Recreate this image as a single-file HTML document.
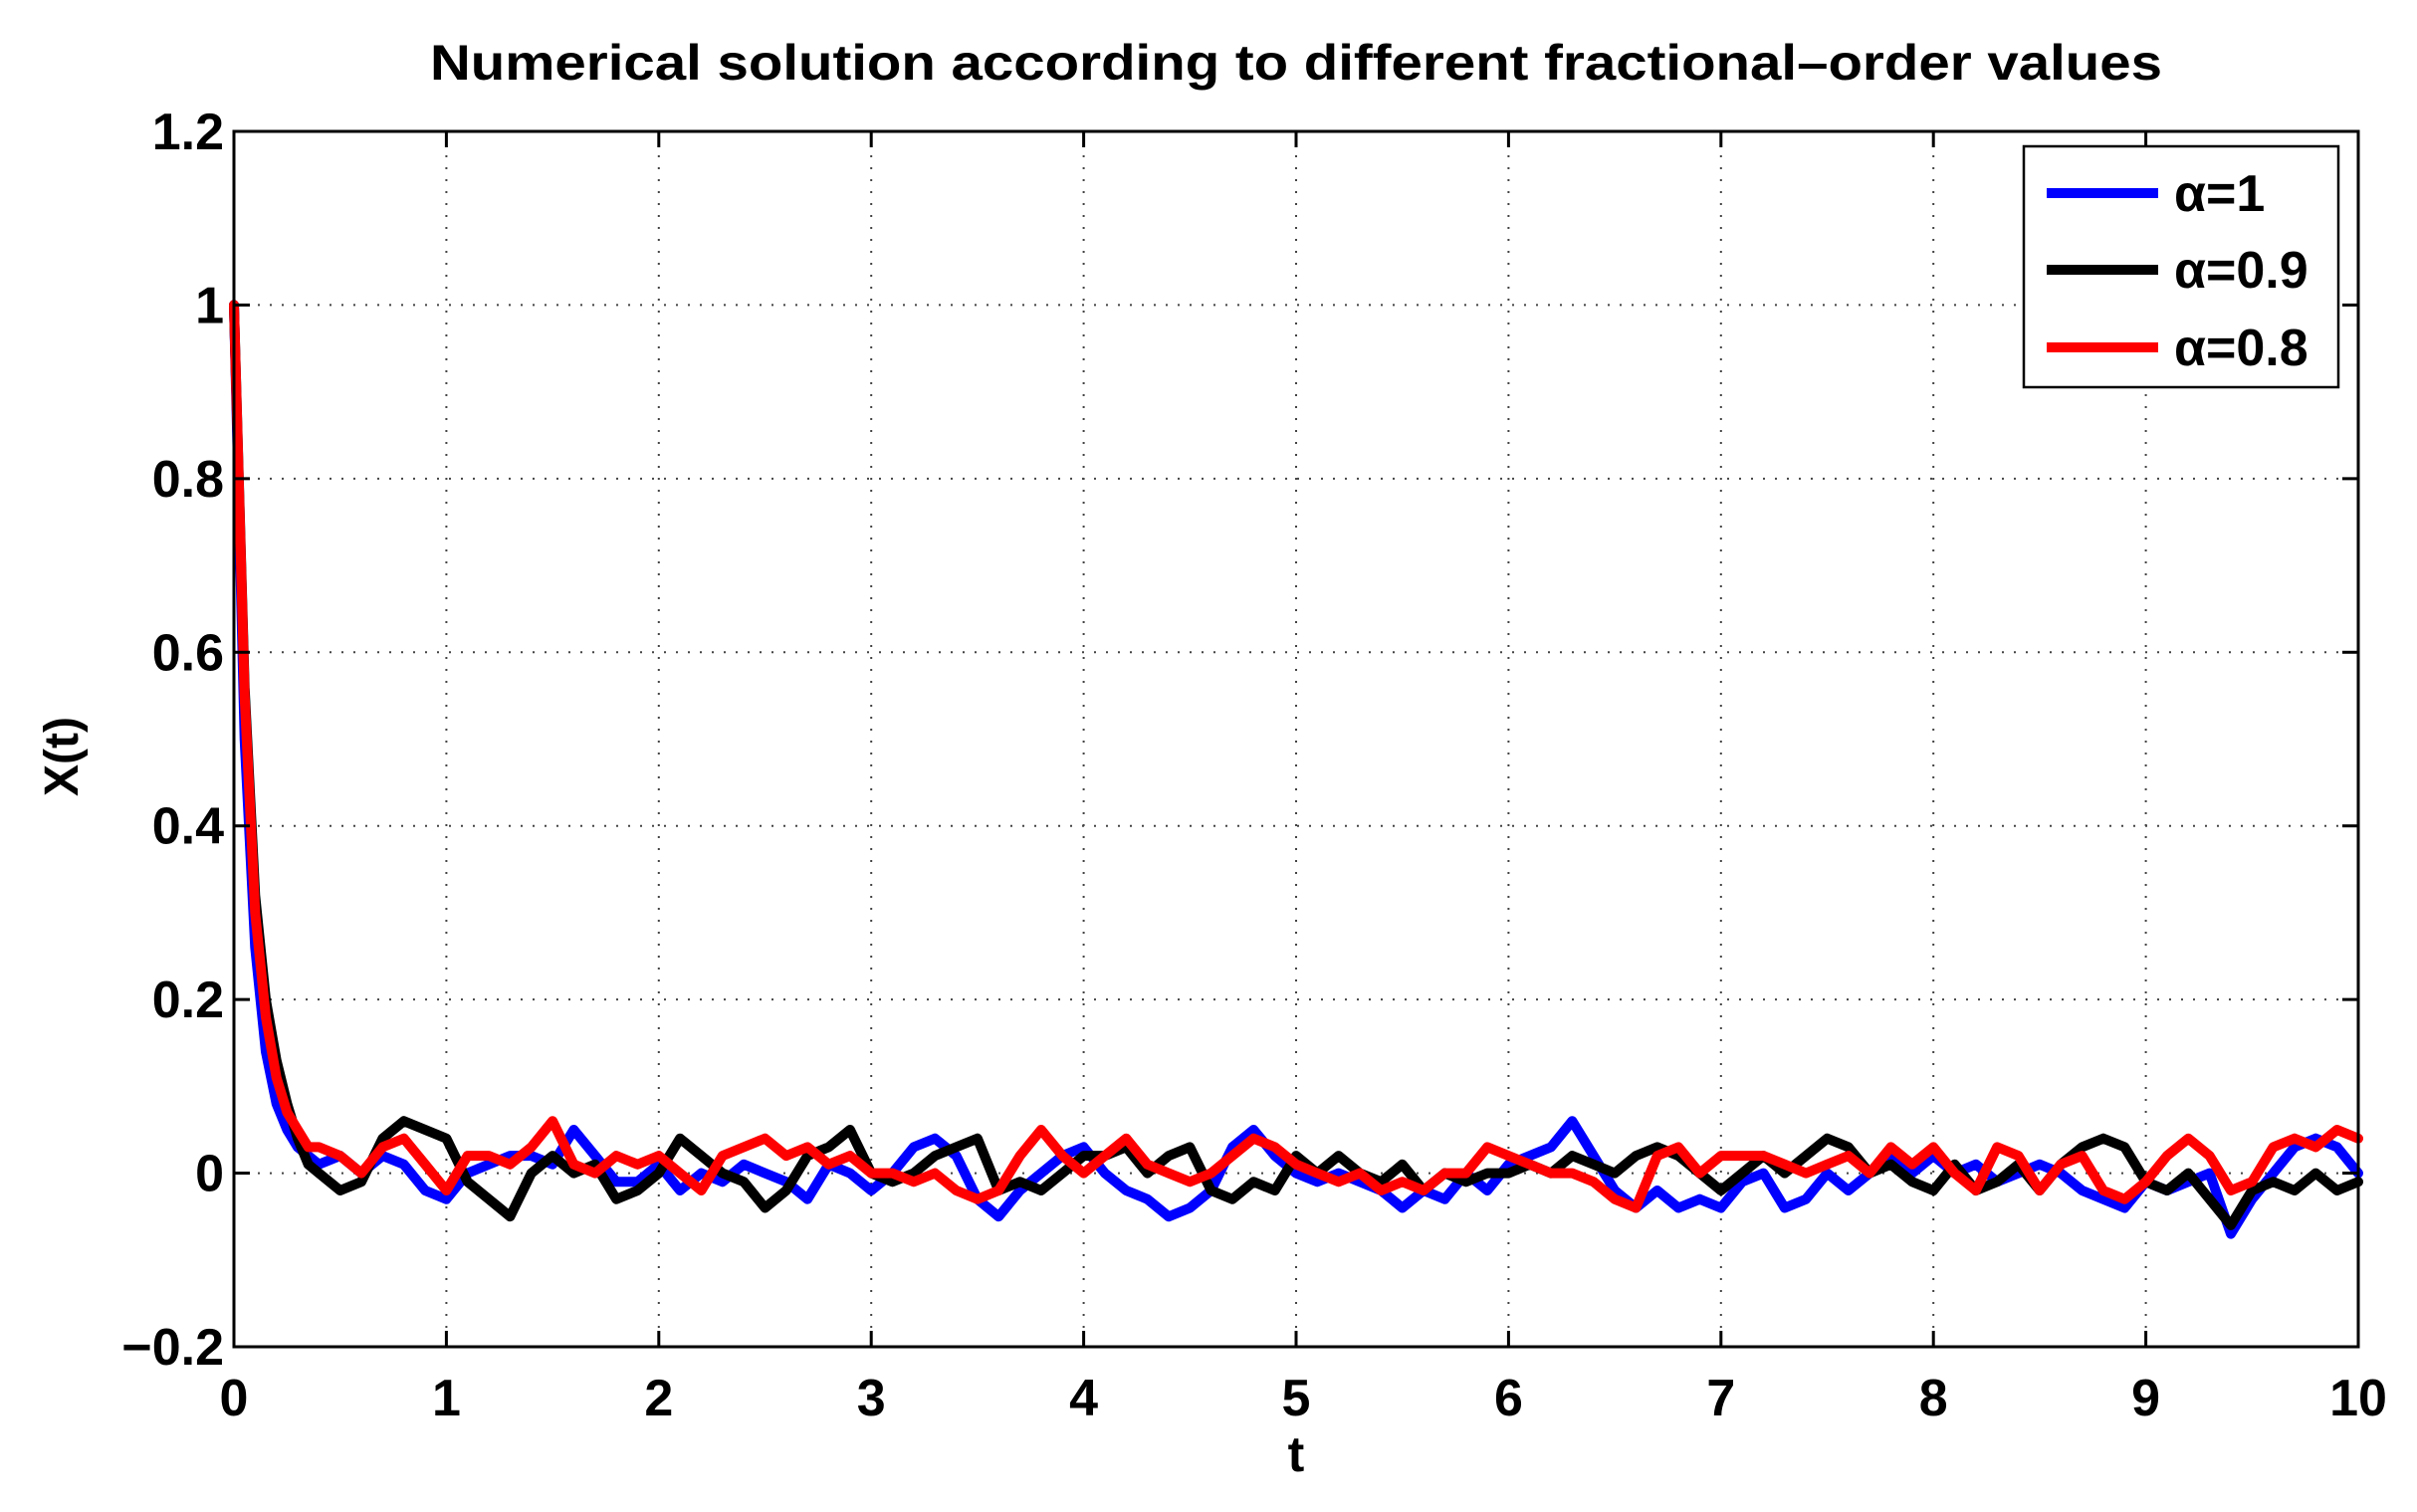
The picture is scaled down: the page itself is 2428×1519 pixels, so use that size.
<!DOCTYPE html>
<html><head><meta charset="utf-8"><style>
html,body{margin:0;padding:0;background:#fff;}
svg{display:block;font-family:"Liberation Sans",sans-serif;font-weight:bold;}
</style></head><body>
<svg id="chart" width="2428" height="1519" viewBox="0 0 2428 1519">
<g id="grid"></g>
<g id="series"></g>
<rect x="235" y="132" width="2134" height="1221" fill="none" stroke="#000" stroke-width="3"/>
<g id="ticks"></g>
<text x="1302" y="80" font-size="50" text-anchor="middle" textLength="1740" lengthAdjust="spacingAndGlyphs">Numerical solution according to different fractional–order values</text>
<text x="1302" y="1478" font-size="50" text-anchor="middle">t</text>
<text x="0" y="0" font-size="48" text-anchor="middle" transform="translate(78,760) rotate(-90)">X(t)</text>
<g>
<rect x="2033" y="147" width="316" height="242" fill="#fff" stroke="#000" stroke-width="2.5"/>
<line x1="2056" y1="194" x2="2168" y2="194" stroke="#0000ff" stroke-width="10"/>
<text x="2184" y="212" font-size="52">α=1</text>
<line x1="2056" y1="271" x2="2168" y2="271" stroke="#000" stroke-width="10"/>
<text x="2184" y="289" font-size="52">α=0.9</text>
<line x1="2056" y1="349" x2="2168" y2="349" stroke="#ff0000" stroke-width="10"/>
<text x="2184" y="367" font-size="52">α=0.8</text>
</g>
</svg>
<script>
const xTicks=[0,1,2,3,4,5,6,7,8,9,10];
const yTicks=[-0.2,0,0.2,0.4,0.6,0.8,1,1.2];
const yTickLabels=["−0.2","0","0.2","0.4","0.6","0.8","1","1.2"];
const tHead=[0,0.05,0.1,0.15,0.2,0.25,0.3,0.35];
const decayBlue=[1,0.5,0.26,0.14,0.08,0.05,0.03,0.02];
const decayBlack=[1,0.56,0.32,0.2,0.13,0.08,0.04,0.01];
const decayRed=[1,0.55,0.3,0.18,0.11,0.07,0.05,0.03];
const blueTail=[0.01,0.02,0.0,0.02,0.01,-0.02,-0.03,0.0,0.01,0.02,0.02,0.01,0.05,0.02,-0.01,-0.01,0.01,-0.02,0.0,-0.01,0.01,0.0,-0.01,-0.03,0.01,0.0,-0.02,0.0,0.03,0.04,0.02,-0.03,-0.05,-0.02,0.0,0.02,0.03,0.0,-0.02,-0.03,-0.05,-0.04,-0.02,0.03,0.05,0.02,0.0,-0.01,0.0,-0.01,-0.02,-0.04,-0.02,-0.03,0.0,-0.02,0.01,0.02,0.03,0.06,0.02,-0.02,-0.04,-0.02,-0.04,-0.03,-0.04,-0.01,0.0,-0.04,-0.03,0.0,-0.02,0.0,0.02,0.0,0.02,0.0,0.01,-0.01,0.0,0.01,0.0,-0.02,-0.03,-0.04,-0.01,-0.02,-0.01,0.0,-0.07,-0.03,0.0,0.03,0.04,0.03,0.0];
const blackTail=[0.0,-0.02,-0.01,0.04,0.06,0.05,0.04,-0.01,-0.03,-0.05,0.0,0.02,0.0,0.01,-0.03,-0.02,0.0,0.04,0.02,0.0,-0.01,-0.04,-0.02,0.02,0.03,0.05,0.0,-0.01,0.0,0.02,0.03,0.04,-0.02,-0.01,-0.02,0.0,0.02,0.02,0.03,0.0,0.02,0.03,-0.02,-0.03,-0.01,-0.02,0.02,0.0,0.02,0.0,-0.01,0.01,-0.02,0.0,-0.01,0.0,0.0,0.01,0.0,0.02,0.01,0.0,0.02,0.03,0.02,0.0,-0.02,0.0,0.02,0.0,0.02,0.04,0.03,0.0,0.01,-0.01,-0.02,0.01,-0.02,-0.01,0.01,-0.02,0.01,0.03,0.04,0.03,-0.01,-0.02,0.0,-0.03,-0.06,-0.02,-0.01,-0.02,0.0,-0.02,-0.01];
const redTail=[0.03,0.02,0.0,0.03,0.04,0.01,-0.02,0.02,0.02,0.01,0.03,0.06,0.01,0.0,0.02,0.01,0.02,0.0,-0.02,0.02,0.03,0.04,0.02,0.03,0.01,0.02,0.0,0.0,-0.01,0.0,-0.02,-0.03,-0.02,0.02,0.05,0.02,0.0,0.02,0.04,0.01,0.0,-0.01,0.0,0.02,0.04,0.03,0.01,0.0,-0.01,0.0,-0.02,-0.01,-0.02,0.0,0.0,0.03,0.02,0.01,0.0,0.0,-0.01,-0.03,-0.04,0.02,0.03,0.0,0.02,0.02,0.02,0.01,0.0,0.01,0.02,0.0,0.03,0.01,0.03,0.0,-0.02,0.03,0.02,-0.02,0.01,0.02,-0.02,-0.03,-0.01,0.02,0.04,0.02,-0.02,-0.01,0.03,0.04,0.03,0.05,0.04];
const X0=235,X1=2369,Y0=1353,Y1=132;
const sx=v=>X0+(v-0)/(10-0)*(X1-X0);
const sy=v=>Y0-(v+0.2)/(1.4)*(Y0-Y1);
const NS="http://www.w3.org/2000/svg";
function mk(tag,attrs,parent){const e=document.createElementNS(NS,tag);for(const k in attrs)e.setAttribute(k,attrs[k]);parent.appendChild(e);return e;}
const grid=document.getElementById('grid'),ticks=document.getElementById('ticks'),ser=document.getElementById('series');
xTicks.forEach(v=>{
  const x=sx(v);
  if(v>0&&v<10){const g=mk('line',{x1:x,y1:Y1,x2:x,y2:Y0,stroke:'#444','stroke-width':2,'stroke-dasharray':'2 10'},grid);
  
  }
  const t1=mk('line',{x1:x,y1:Y0,x2:x,y2:Y0-16,stroke:'#000','stroke-width':3},ticks);
  
  
  const t2=mk('line',{x1:x,y1:Y1,x2:x,y2:Y1+16,stroke:'#000','stroke-width':3},ticks);
  
  
  const l=mk('text',{x:x,y:1422,'font-size':52,'text-anchor':'middle'},ticks);l.textContent=String(v);
  
  
});
yTicks.forEach((v,i)=>{
  const y=sy(v);
  if(i>0&&i<yTicks.length-1){const g=mk('line',{x1:X0,y1:y,x2:X1,y2:y,stroke:'#444','stroke-width':2,'stroke-dasharray':'2 10'},grid);
  
  }
  const t1=mk('line',{x1:X0,y1:y,x2:X0+16,y2:y,stroke:'#000','stroke-width':3},ticks);
  
  
  const t2=mk('line',{x1:X1,y1:y,x2:X1-16,y2:y,stroke:'#000','stroke-width':3},ticks);
  
  
  const l=mk('text',{x:X0-10,y:y+18,'font-size':52,'text-anchor':'end'},ticks);l.textContent=yTickLabels[i];
  
  
});
function tGrid(n){const t=tHead.slice();for(let i=0;i<n;i++)t.push(0.4+i*0.1);return t;}
function draw(head,tail,color,name){
  const vals=head.concat(tail);const t=tGrid(tail.length);
  const pts=vals.map((v,i)=>sx(t[i]).toFixed(1)+','+sy(v).toFixed(1)).join(' ');
  const p=mk('polyline',{points:pts,fill:'none',stroke:color,'stroke-width':10,'stroke-linejoin':'round','stroke-linecap':'round'},ser);
  
  
}
draw(decayBlue,blueTail,'#0000ff','series-alpha-1');
draw(decayBlack,blackTail,'#000000','series-alpha-0.9');
draw(decayRed,redTail,'#ff0000','series-alpha-0.8');
</script>
</body></html>
